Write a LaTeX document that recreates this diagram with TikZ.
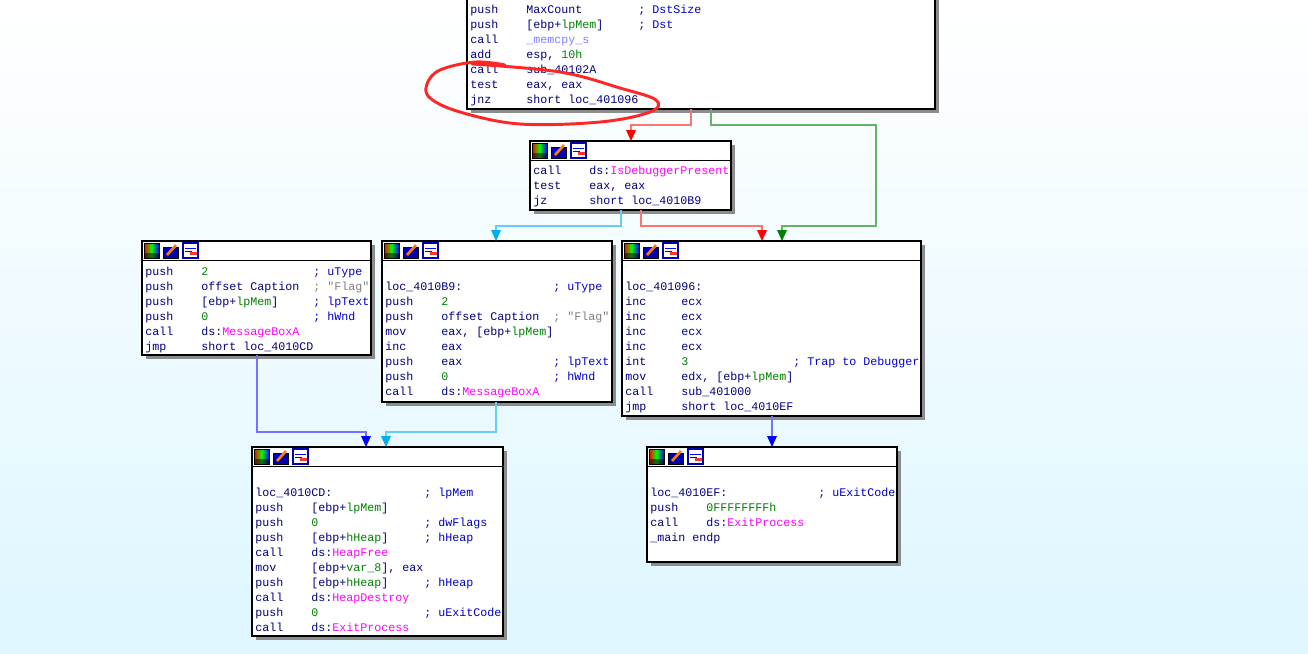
\documentclass[tikz,border=0pt]{standalone}
\usepackage{fontspec}
\setmonofont{Liberation Mono}
\usetikzlibrary{fit,calc}
\definecolor{navy}{RGB}{0,0,128}
\definecolor{idagreen}{RGB}{0,128,0}
\definecolor{idamag}{RGB}{255,0,255}
\definecolor{idalib}{RGB}{128,128,255}
\definecolor{idagray}{RGB}{128,128,128}
\definecolor{cmt}{RGB}{0,0,200}
\definecolor{bgb}{RGB}{222,246,255}
\newcommand\G[1]{\textcolor{idagreen}{#1}}
\newcommand\M[1]{\textcolor{idamag}{#1}}
\newcommand\C[1]{\textcolor{cmt}{#1}}
\newcommand\asmI[3]{\node[asm] at (#1,#2+1.5) {#3};}
\newcommand\icons[2]{%
  \shade[left color=red,right color=blue,middle color=green] (#1+2,#2+2) rectangle (#1+17,#2+17);
  \fill[black,opacity=0.5] (#1+2,#2+12) rectangle (#1+17,#2+17);
  \draw[black,line width=0.5pt] (#1+2,#2+2) rectangle (#1+17,#2+17);
  \fill[blue!70!black] (#1+21,#2+6) rectangle (#1+36,#2+17);
  \draw[black,line width=0.5pt] (#1+21,#2+6) rectangle (#1+36,#2+17);
  \draw[orange,line width=2pt] (#1+25,#2+14) -- (#1+34,#2+4);
  \fill[white] (#1+41,#2+2) rectangle (#1+56,#2+17);
  \draw[blue!70!black,line width=1pt] (#1+41,#2+2) rectangle (#1+56,#2+17);
  \draw[blue,line width=0.7pt] (#1+43,#2+7) -- (#1+54,#2+7) (#1+43,#2+10) -- (#1+50,#2+10);
  \fill[red!80] (#1+48,#2+11) rectangle (#1+55,#2+14);}
\newcommand\blk[5]{%
  \fill[black!45] (#2+4,#3+4) rectangle (#4+4,#5+4);
  \node[fit={(#2,#3)(#4,#5)},inner sep=0pt,draw=black,fill=white,line width=0.8pt] (#1) {};
  \icons{#2}{#3}
  \draw[black,line width=0.6pt] (#2,#3+19) -- (#4,#3+19);}
\tikzset{
  asm/.style={anchor=mid west,inner sep=0pt,font=\ttfamily\fontsize{8.75pt}{10pt}\selectfont,text=navy},
  edge/.style={line width=1.2pt},
}
\newcommand\arrowtip[3]{\fill[#1] (#2-5,#3-11) -- (#2+5,#3-11) -- (#2,#3) -- cycle;}
\begin{document}
\begin{tikzpicture}[x=0.75pt,y=-0.75pt]
\shade[top color=white,bottom color=bgb] (0,0) rectangle (1308,653);
\useasboundingbox (0,0) rectangle (1308,653);
% blocks
\blk{top}{467}{-30}{935}{109}
\fill[white] (468,-30) rectangle (934,1);
\blk{b2}{530}{141}{731}{210}
\blk{b3}{142}{241}{371}{355}
\blk{b4}{382}{241}{612}{402}
\blk{b5}{622}{241}{921}{416}
\blk{b6}{252}{447}{503}{636}
\blk{b7}{647}{447}{897}{562}
% top text
\foreach \y/\m in {9/push,24/push,39/call,54/add,69/call,84/test,99/jnz} {\asmI{470}{\y}{\m}}
\asmI{526}{9}{MaxCount}\asmI{638}{9}{\C{; DstSize}}
\asmI{526}{24}{[ebp+\G{lpMem}]}\asmI{638}{24}{\C{; Dst}}
\asmI{526}{39}{\textcolor{idalib}{\_memcpy\_s}}
\asmI{526}{54}{esp, \G{10h}}
\asmI{526}{69}{sub\_40102A}
\asmI{526}{84}{eax, eax}
\asmI{526}{99}{short loc\_401096}
% b2
\asmI{533}{170}{call}\asmI{589}{170}{ds:\M{IsDebuggerPresent}}
\asmI{533}{185}{test}\asmI{589}{185}{eax, eax}
\asmI{533}{200}{jz}\asmI{589}{200}{short loc\_4010B9}
% b3
\asmI{145}{271}{push}\asmI{201}{271}{\G{2}}\asmI{313}{271}{\C{; uType}}
\asmI{145}{286}{push}\asmI{201}{286}{offset Caption}\asmI{313}{286}{\textcolor{idagray}{; "Flag"}}
\asmI{145}{301}{push}\asmI{201}{301}{[ebp+\G{lpMem}]}\asmI{313}{301}{\C{; lpText}}
\asmI{145}{316}{push}\asmI{201}{316}{\G{0}}\asmI{313}{316}{\C{; hWnd}}
\asmI{145}{331}{call}\asmI{201}{331}{ds:\M{MessageBoxA}}
\asmI{145}{346}{jmp}\asmI{201}{346}{short loc\_4010CD}
% b4
\asmI{385}{286}{loc\_4010B9:}\asmI{553}{286}{\C{; uType}}
\asmI{385}{301}{push}\asmI{441}{301}{\G{2}}
\asmI{385}{316}{push}\asmI{441}{316}{offset Caption}\asmI{553}{316}{\textcolor{idagray}{; "Flag"}}
\asmI{385}{331}{mov}\asmI{441}{331}{eax, [ebp+\G{lpMem}]}
\asmI{385}{346}{inc}\asmI{441}{346}{eax}
\asmI{385}{361}{push}\asmI{441}{361}{eax}\asmI{553}{361}{\C{; lpText}}
\asmI{385}{376}{push}\asmI{441}{376}{\G{0}}\asmI{553}{376}{\C{; hWnd}}
\asmI{385}{391}{call}\asmI{441}{391}{ds:\M{MessageBoxA}}
% b5
\asmI{625}{286}{loc\_401096:}
\foreach \y in {301,316,331,346} {\asmI{625}{\y}{inc}\asmI{681}{\y}{ecx}}
\asmI{625}{361}{int}\asmI{681}{361}{\G{3}}\asmI{793}{361}{\C{; Trap to Debugger}}
\asmI{625}{376}{mov}\asmI{681}{376}{edx, [ebp+\G{lpMem}]}
\asmI{625}{391}{call}\asmI{681}{391}{sub\_401000}
\asmI{625}{406}{jmp}\asmI{681}{406}{short loc\_4010EF}
% b6
\asmI{255}{492}{loc\_4010CD:}\asmI{424}{492}{\C{; lpMem}}
\asmI{255}{507}{push}\asmI{311}{507}{[ebp+\G{lpMem}]}
\asmI{255}{522}{push}\asmI{311}{522}{\G{0}}\asmI{424}{522}{\C{; dwFlags}}
\asmI{255}{537}{push}\asmI{311}{537}{[ebp+\G{hHeap}]}\asmI{424}{537}{\C{; hHeap}}
\asmI{255}{552}{call}\asmI{311}{552}{ds:\M{HeapFree}}
\asmI{255}{567}{mov}\asmI{311}{567}{[ebp+\G{var\_8}], eax}
\asmI{255}{582}{push}\asmI{311}{582}{[ebp+\G{hHeap}]}\asmI{424}{582}{\C{; hHeap}}
\asmI{255}{597}{call}\asmI{311}{597}{ds:\M{HeapDestroy}}
\asmI{255}{612}{push}\asmI{311}{612}{\G{0}}\asmI{424}{612}{\C{; uExitCode}}
\asmI{255}{627}{call}\asmI{311}{627}{ds:\M{ExitProcess}}
% b7
\asmI{650}{492}{loc\_4010EF:}\asmI{818}{492}{\C{; uExitCode}}
\asmI{650}{507}{push}\asmI{706}{507}{\G{0FFFFFFFFh}}
\asmI{650}{522}{call}\asmI{706}{522}{ds:\M{ExitProcess}}
\asmI{650}{537}{\_main endp}
% edges
\draw[edge,red!55] (691,109) -- (691,125) -- (631,125) -- (631,131);
\arrowtip{red}{631}{141}
\draw[edge,green!50!black!60] (711,109) -- (711,125) -- (876,125) -- (876,226) -- (782,226) -- (782,231);
\arrowtip{green!50!black}{782}{241}
\draw[edge,cyan!60] (621,210) -- (621,226) -- (496,226) -- (496,231);
\arrowtip{cyan}{496}{241}
\draw[edge,red!55] (641,210) -- (641,226) -- (762,226) -- (762,231);
\arrowtip{red}{762}{241}
\draw[edge,blue!55] (257,355) -- (257,432) -- (366,432) -- (366,437);
\arrowtip{blue}{366}{447}
\draw[edge,cyan!60] (496,402) -- (496,432) -- (386,432) -- (386,437);
\arrowtip{cyan}{386}{447}
\draw[edge,blue!55] (772,416) -- (772,437);
\arrowtip{blue}{772}{447}
% hand-drawn circle
\draw[red!85,line width=2.2pt,line cap=round,line join=round] plot[smooth,tension=0.6] coordinates {(472,64) (560,72) (620,88) (656,100) (650,112) (600,122) (520,124) (460,112) (430,98) (427,84) (440,70) (475,62) (505,65)};
\end{tikzpicture}
\end{document}
